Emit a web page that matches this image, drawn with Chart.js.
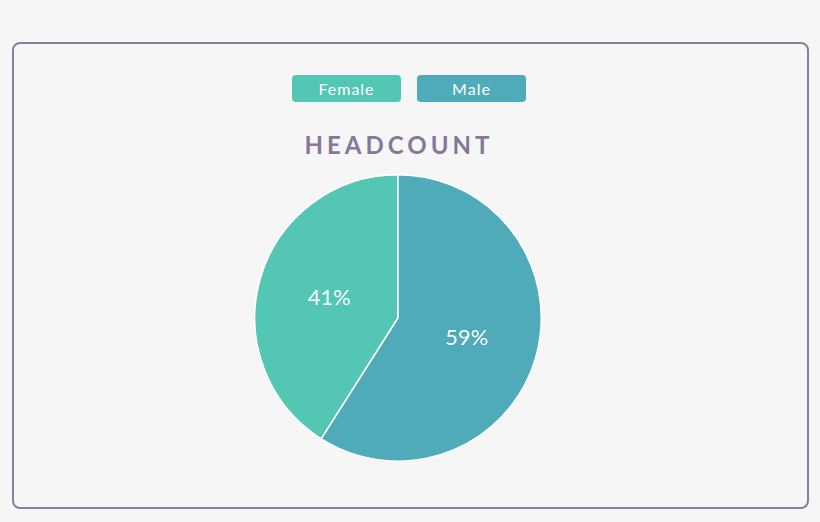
<!DOCTYPE html>
<html><head><meta charset="utf-8">
<script src="https://cdn.jsdelivr.net/npm/chart.js@4"></script>
<style>
body{margin:0;background:#f6f6f6;width:820px;height:522px;overflow:hidden;font-family:Lato,"Open Sans",sans-serif}
#frame{position:absolute;left:12px;top:42px;width:793px;height:463px;border:2px solid #8a7d9e;border-radius:8px}
.lg{position:absolute;top:75px;height:27px;width:109px;border-radius:4px;color:#fff;font-size:16px;line-height:27px;text-align:center;letter-spacing:1px}
#title{position:absolute;top:130px;left:0;width:798px;text-align:center;font-size:24px;font-weight:bold;letter-spacing:4px;color:#85789a}
#wrap{position:absolute;left:248px;top:168px;width:300px;height:300px}
</style></head><body>
<div id="frame"></div>
<div id="lg0" class="lg" style="left:292px"></div>
<div id="lg1" class="lg" style="left:417px"></div>
<div id="title">HEADCOUNT</div>
<div id="wrap"><canvas id="c"></canvas></div>
<script>
const categories=["Female","Male"];
const values=[41,59];
const colors=["#53c6b4","#4faab9"];
categories.forEach((c,i)=>{const e=document.getElementById('lg'+i);e.textContent=c;e.style.background=colors[i];});
const labelPlugin={id:'lbl',afterDatasetsDraw(ch){const ctx=ch.ctx;const meta=ch.getDatasetMeta(0);ctx.save();ctx.fillStyle='#fff';ctx.font='22px Lato, sans-serif';ctx.textAlign='center';ctx.textBaseline='middle';
meta.data.forEach((a,i)=>{const p=a.tooltipPosition();ctx.fillText(values[i]+'%',p.x,p.y);});ctx.restore();}};
new Chart(document.getElementById('c'),{type:'pie',data:{labels:categories,datasets:[{data:values,backgroundColor:colors,borderColor:'#fff',borderWidth:1.5}]},
options:{responsive:true,maintainAspectRatio:false,animation:false,rotation:-values[0]/100*360,layout:{padding:6},
plugins:{legend:{display:false},tooltip:{enabled:false}}},plugins:[labelPlugin]});
</script></body></html>
